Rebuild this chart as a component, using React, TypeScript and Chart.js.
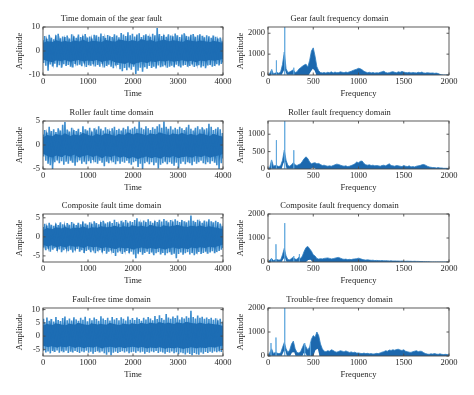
import React, { useEffect, useRef } from "react";
import { Chart, registerables } from "chart.js";
Chart.register(...registerables);

const FONT = "'Liberation Serif', 'Times New Roman', serif";
const TEXT = "#262626";
const OUTER = "#3d8dce";
const CORE = "#1d6db4";
const BAND = "#1c68ae";
const BAND_EDGE = "#2f7fc2";
const SPIKE = "#5ea6dc";

// ---- tick labels ----
const timeXTicks = [0, 1000, 2000, 3000, 4000];
const freqXTicks = [0, 500, 1000, 1500, 2000];
const gearTimeYTicks = [-10, 0, 10];
const rollerTimeYTicks = [-5, 0, 5];
const compTimeYTicks = [-5, 0, 5];
const ffTimeYTicks = [-5, 0, 5, 10];
const gearFreqYTicks = [0, 1000, 2000];
const rollerFreqYTicks = [0, 500, 1000];
const compFreqYTicks = [0, 1000, 2000];
const ffFreqYTicks = [0, 1000, 2000];

// ---- time domain envelopes (outer spikes, sampled over 0..4000) ----
const gearTimeHi = [4.5,6.2,5.1,6.8,5.5,4.9,6.6,7.2,5.3,6.0,5.8,6.4,5.2,7.0,6.1,5.5,6.9,5.8,6.3,7.1,5.6,6.0,5.2,6.8,6.5,5.9,7.3,6.2,5.4,6.7,6.1,5.8,7.0,6.4,5.7,7.5,6.9,6.2,7.8,6.6,7.2,6.0,6.9,7.4,5.8,6.6,7.0,6.3,5.9,7.2,6.5,9.6,7.1,6.2,6.8,5.9,7.0,6.4,6.1,7.3,6.6,5.8,6.9,7.4,6.2,6.0,6.8,7.1,5.9,6.5,7.0,6.3,5.7,6.6,6.1,5.5,6.4,5.9,5.2,5.6,4.0];
const gearTimeLo = [-5.0,-6.1,-8.2,-5.6,-6.4,-5.3,-6.8,-5.9,-7.0,-5.5,-6.2,-5.8,-6.6,-6.9,-5.4,-6.0,-5.7,-6.3,-5.2,-6.7,-5.9,-6.1,-5.5,-6.4,-5.8,-6.6,-5.3,-6.9,-6.2,-5.7,-6.5,-7.2,-6.0,-5.8,-7.6,-8.4,-7.1,-8.0,-6.9,-7.8,-6.6,-9.6,-8.2,-7.0,-8.6,-6.8,-7.4,-6.2,-7.1,-6.5,-7.3,-6.0,-6.8,-6.4,-5.9,-7.0,-6.6,-6.1,-6.8,-5.7,-6.3,-6.9,-6.0,-5.8,-6.5,-6.2,-5.6,-6.7,-6.1,-5.9,-6.9,-6.3,-7.2,-6.0,-5.8,-6.6,-6.2,-5.5,-6.0,-5.4,-4.8];
const gearCoreHi = [3.4,4.1,3.7,4.5,3.9,4.2,3.6,4.4,4.0,4.7,3.8,4.3,4.1,3.7,4.6,4.2,3.9,4.8,4.4,4.1,4.5,4.0,4.9,4.3,4.6,3.9,4.4,4.7,4.1,4.5,4.2,3.8,4.6,4.3,4.0,4.4,4.1,3.7,4.2,3.9,3.2];
const gearCoreLo = [-3.5,-4.2,-4.7,-3.9,-4.3,-3.8,-4.5,-4.1,-3.7,-4.4,-4.0,-4.2,-3.8,-4.6,-4.1,-3.9,-4.7,-5.0,-5.3,-4.8,-5.6,-4.9,-4.5,-5.0,-4.3,-4.6,-4.1,-4.4,-4.0,-4.5,-4.2,-3.9,-4.4,-4.1,-4.7,-4.0,-4.3,-3.8,-4.1,-3.7,-3.3];

const rollerTimeHi = [2.2,3.1,2.6,3.8,2.9,3.3,2.7,3.5,3.0,4.2,4.8,3.2,2.8,3.6,3.1,2.9,3.4,2.7,3.9,3.3,3.0,3.6,2.8,3.5,3.2,3.9,3.4,3.0,3.7,3.3,2.9,3.5,3.8,3.1,3.4,3.0,3.6,3.3,3.9,3.2,3.5,3.8,3.4,4.9,3.6,3.3,3.9,3.5,3.1,3.7,3.4,3.9,4.3,3.6,4.9,3.8,3.4,3.9,3.2,3.6,3.3,3.8,3.5,3.1,3.7,4.2,3.4,3.0,3.6,3.9,3.3,3.7,3.2,3.5,4.4,3.8,3.1,3.4,3.7,3.3,2.5];
const rollerTimeLo = [-2.4,-3.3,-3.9,-4.2,-5.0,-3.6,-3.2,-3.8,-3.4,-4.1,-3.5,-3.9,-3.3,-3.7,-4.3,-3.6,-3.2,-3.9,-3.5,-4.0,-3.4,-3.8,-3.1,-3.6,-3.9,-3.3,-3.7,-4.4,-3.5,-3.8,-3.2,-3.6,-4.0,-3.4,-3.9,-3.5,-3.7,-3.3,-3.8,-4.1,-3.6,-3.4,-4.6,-3.9,-5.0,-3.8,-3.5,-4.0,-3.6,-4.2,-3.7,-4.9,-4.1,-3.8,-3.5,-4.0,-3.6,-3.9,-4.3,-3.7,-4.8,-3.9,-3.5,-4.0,-3.6,-3.8,-4.2,-3.5,-3.9,-3.6,-3.3,-3.8,-4.0,-3.6,-3.9,-3.4,-3.7,-4.2,-5.0,-3.8,-2.8];
const rollerCoreHi = [1.6,2.1,1.8,2.3,2.0,2.4,1.9,2.2,2.0,2.5,2.1,1.9,2.3,2.0,2.4,2.2,1.9,2.3,2.1,2.6,2.2,2.5,2.3,2.0,2.4,2.2,2.6,2.3,2.1,2.4,2.2,2.5,2.1,2.3,2.0,2.4,2.2,1.9,2.3,2.0,1.7];
const rollerCoreLo = [-1.8,-2.3,-2.6,-2.2,-2.5,-2.1,-2.4,-2.0,-2.6,-2.3,-2.1,-2.5,-2.2,-2.7,-2.3,-2.5,-2.2,-2.6,-2.4,-2.8,-2.5,-2.9,-2.6,-2.4,-2.7,-2.5,-2.8,-2.4,-2.6,-2.3,-2.7,-2.5,-2.4,-2.6,-2.3,-2.5,-2.2,-2.6,-2.4,-2.2,-1.9];

const compTimeHi = [2.6,3.4,3.0,3.7,3.2,2.9,3.5,3.1,3.8,3.3,3.0,3.6,3.2,3.9,3.4,3.1,3.7,3.3,4.0,3.5,3.2,3.8,3.4,4.1,3.6,3.3,3.9,4.2,3.5,3.8,4.0,3.6,4.5,3.9,3.4,4.2,3.8,4.4,3.7,4.1,3.9,4.4,4.9,4.0,3.8,4.3,3.9,4.6,4.1,3.7,4.2,3.9,4.5,4.0,4.7,4.2,3.8,4.4,4.0,4.6,4.2,3.9,4.4,4.1,3.8,4.3,5.6,4.2,3.9,4.5,4.1,3.7,4.3,4.0,4.6,4.1,3.8,4.2,3.9,3.5,2.8];
const compTimeLo = [-2.8,-3.5,-3.1,-3.9,-3.4,-3.0,-3.7,-3.3,-4.0,-3.5,-3.2,-3.8,-3.4,-4.1,-3.6,-3.2,-3.9,-3.5,-4.2,-3.7,-3.4,-4.0,-3.6,-4.3,-3.8,-3.5,-4.1,-3.7,-4.4,-3.9,-3.6,-4.2,-5.0,-4.1,-3.8,-4.5,-4.0,-3.7,-4.3,-3.9,-4.6,-5.6,-4.4,-4.0,-4.7,-4.2,-3.9,-4.5,-4.1,-4.8,-4.3,-4.0,-4.6,-4.2,-4.8,-4.3,-4.0,-4.7,-4.4,-5.6,-4.5,-4.1,-4.7,-4.3,-4.0,-4.6,-4.2,-4.8,-4.4,-4.0,-4.5,-4.2,-3.9,-4.4,-4.1,-3.8,-4.3,-4.0,-3.7,-3.4,-2.9];
const compCoreHi = [1.8,2.3,2.0,2.5,2.2,2.6,2.1,2.4,2.3,2.7,2.2,2.5,2.4,2.8,2.5,2.6,2.9,2.5,2.8,2.6,3.0,2.7,2.9,2.6,3.1,2.8,2.6,3.0,2.7,2.9,3.1,2.8,2.6,2.9,2.7,3.0,2.6,2.8,2.5,2.3,1.9];
const compCoreLo = [-2.0,-2.5,-2.2,-2.7,-2.4,-2.8,-2.3,-2.6,-2.5,-2.9,-2.4,-2.7,-2.6,-3.0,-2.7,-2.9,-3.2,-2.8,-3.0,-2.9,-3.3,-3.0,-2.8,-3.1,-2.9,-3.2,-2.9,-3.3,-3.0,-2.8,-3.1,-2.9,-3.2,-2.8,-3.0,-2.7,-2.9,-2.6,-2.8,-2.4,-2.0];

const ffTimeHi = [6.5,5.2,7.0,5.8,6.4,5.5,7.2,6.1,5.7,6.8,7.4,6.0,6.6,5.9,7.1,6.3,5.8,6.9,6.2,7.3,5.6,6.7,6.0,7.0,6.4,5.8,7.5,6.6,6.1,6.9,5.9,7.2,6.3,6.8,6.0,7.1,6.5,5.9,7.4,6.2,6.8,6.1,7.0,6.4,5.8,6.9,6.3,7.2,6.6,6.0,7.6,6.4,7.9,6.8,6.2,8.3,7.0,6.5,7.4,6.8,7.8,6.3,7.1,6.6,7.5,6.9,9.6,7.2,6.6,7.8,6.9,7.3,6.5,7.0,6.4,6.9,6.2,6.7,6.0,6.5,5.5];
const ffTimeLo = [-5.5,-6.2,-5.8,-6.5,-5.6,-6.0,-5.4,-6.3,-5.7,-6.1,-5.5,-6.4,-5.9,-6.2,-5.6,-6.0,-6.4,-5.8,-6.1,-5.5,-6.3,-5.9,-6.6,-6.0,-5.7,-6.2,-5.8,-6.5,-7.0,-6.1,-7.2,-6.3,-5.9,-6.4,-6.0,-5.7,-6.2,-5.8,-6.5,-6.1,-5.9,-6.3,-5.7,-6.2,-5.9,-6.6,-6.0,-6.3,-5.8,-6.1,-5.6,-6.4,-5.9,-6.2,-6.6,-6.0,-6.3,-5.8,-6.5,-6.1,-6.8,-6.2,-6.5,-6.9,-6.3,-6.7,-7.2,-6.4,-6.8,-7.0,-6.2,-6.6,-6.0,-6.4,-5.9,-6.3,-5.8,-6.1,-5.7,-6.0,-5.2];
const ffCoreHi = [4.0,4.6,4.2,4.8,4.4,4.1,4.7,4.3,4.9,4.5,4.2,4.8,4.4,4.6,4.3,4.9,4.5,4.2,4.7,4.4,4.8,4.5,4.9,4.6,5.0,4.7,5.2,4.8,5.0,4.6,5.1,4.8,5.3,4.9,4.7,5.0,4.6,4.8,4.5,4.3,3.8];
const ffCoreLo = [-3.6,-4.1,-3.8,-4.3,-3.9,-4.2,-3.7,-4.4,-4.0,-4.5,-4.1,-4.3,-3.9,-4.6,-4.2,-4.0,-4.4,-4.1,-4.5,-4.2,-4.0,-4.4,-4.1,-4.6,-4.3,-4.5,-4.2,-4.7,-4.4,-4.6,-4.3,-4.8,-4.5,-4.2,-4.6,-4.3,-4.5,-4.1,-4.3,-3.9,-3.5];

// ---- frequency spectra (upper envelope, every 20 Hz over 0..2000) ----
const gearFreq = [0,80,250,60,90,120,80,150,500,1100,300,120,150,200,250,120,150,280,350,420,480,520,380,700,1150,1300,900,400,200,120,100,120,90,130,110,150,100,140,110,120,150,130,110,140,120,150,180,220,250,280,320,300,250,180,140,110,130,100,120,90,110,100,130,150,180,120,100,110,140,160,130,110,150,130,170,140,120,110,130,100,120,110,100,130,110,140,100,90,110,100,90,100,80,90,70,30,10,5,5,5,0];
const rollerFreq = [0,60,260,80,100,90,70,100,250,540,250,100,80,120,180,120,100,130,150,220,300,350,300,200,150,170,180,150,160,130,100,110,90,80,90,80,100,120,140,130,110,90,80,90,70,80,100,120,150,200,180,220,230,160,120,110,120,100,110,90,100,90,80,100,110,90,120,150,100,90,80,100,90,80,70,100,80,70,90,60,70,60,80,90,100,120,130,110,80,60,50,40,40,30,40,30,30,20,20,20,10];
const compFreq = [0,80,150,60,90,100,80,90,300,570,250,100,90,150,200,120,110,200,150,250,450,600,650,550,450,300,250,150,120,140,130,150,160,170,150,130,140,160,180,190,160,130,110,120,100,110,100,120,130,140,160,140,110,90,80,90,80,70,75,60,65,60,55,60,50,55,50,45,50,40,45,40,40,35,40,35,30,35,30,30,25,30,25,25,20,20,15,15,10,10,5,5,5,5,5,5,5,5,5,5,5];
const ffFreq = [0,150,300,100,150,120,100,120,350,560,300,150,250,500,620,300,150,130,180,350,520,380,250,380,700,850,780,1000,850,500,300,200,180,220,200,260,230,180,160,190,220,200,170,210,180,150,170,140,160,120,130,110,100,120,100,110,90,100,80,90,110,100,130,160,180,220,200,250,230,260,240,270,280,250,230,260,200,180,160,150,180,200,220,180,200,190,140,100,80,70,90,80,100,80,70,90,70,60,70,60,50];

// ---- narrow spectral lines [frequency, amplitude] ----
const gearSpikes = [[40, 270], [92, 700], [184, 2400], [284, 350]];
const rollerSpikes = [[37, 260], [92, 830], [184, 1450], [284, 540]];
const compSpikes = [[37, 150], [88, 740], [184, 1620], [284, 250], [346, 330]];
const ffSpikes = [[33, 540], [88, 770], [184, 2100], [405, 540], [468, 560]];

// ---- white gaps under peaks [frequency, amplitude] ----
const gearGaps = [[150,0],[175,220],[192,200],[208,0],[450,0],[475,180],[495,300],[515,220],[535,0]];
const rollerGaps = [[150,0],[172,180],[190,200],[205,0],[470,0],[500,40],[530,0]];
const compGaps = [[150,0],[172,150],[190,160],[205,0],[420,0],[445,80],[470,90],[495,0]];
const ffGaps = [[150,0],[175,200],[192,220],[208,0],[245,0],[265,150],[290,160],[305,0],[380,0],[395,120],[415,110],[430,0],[500,0],[525,250],[550,300],[570,0]];

type Panel = {
  title: string; xLabel: string; kind: "time" | "freq"; side: "L" | "R"; row: number;
  xMax: number; xTicks: number[]; yMin: number; yMax: number; yTicks: number[];
  hi?: number[]; lo?: number[]; coreHi?: number[]; coreLo?: number[];
  band?: number[]; spikes?: number[][]; gaps?: number[][];
};

const panels: Panel[] = [
  { title: "Time domain of the gear fault", xLabel: "Time", kind: "time", side: "L", row: 0, xMax: 4000, xTicks: timeXTicks, yMin: -10, yMax: 10, yTicks: gearTimeYTicks, hi: gearTimeHi, lo: gearTimeLo, coreHi: gearCoreHi, coreLo: gearCoreLo },
  { title: "Gear fault frequency domain", xLabel: "Frequency", kind: "freq", side: "R", row: 0, xMax: 2000, xTicks: freqXTicks, yMin: 0, yMax: 2300, yTicks: gearFreqYTicks, band: gearFreq, spikes: gearSpikes, gaps: gearGaps },
  { title: "Roller fault time domain", xLabel: "Time", kind: "time", side: "L", row: 1, xMax: 4000, xTicks: timeXTicks, yMin: -5, yMax: 5, yTicks: rollerTimeYTicks, hi: rollerTimeHi, lo: rollerTimeLo, coreHi: rollerCoreHi, coreLo: rollerCoreLo },
  { title: "Roller fault frequency domain", xLabel: "Frequency", kind: "freq", side: "R", row: 1, xMax: 2000, xTicks: freqXTicks, yMin: 0, yMax: 1380, yTicks: rollerFreqYTicks, band: rollerFreq, spikes: rollerSpikes, gaps: rollerGaps },
  { title: "Composite fault time domain", xLabel: "Time", kind: "time", side: "L", row: 2, xMax: 4000, xTicks: timeXTicks, yMin: -6.6, yMax: 6, yTicks: compTimeYTicks, hi: compTimeHi, lo: compTimeLo, coreHi: compCoreHi, coreLo: compCoreLo },
  { title: "Composite fault frequency domain", xLabel: "Frequency", kind: "freq", side: "R", row: 2, xMax: 2000, xTicks: freqXTicks, yMin: 0, yMax: 2000, yTicks: compFreqYTicks, band: compFreq, spikes: compSpikes, gaps: compGaps },
  { title: "Fault-free time domain", xLabel: "Time", kind: "time", side: "L", row: 3, xMax: 4000, xTicks: timeXTicks, yMin: -7.5, yMax: 10.6, yTicks: ffTimeYTicks, hi: ffTimeHi, lo: ffTimeLo, coreHi: ffCoreHi, coreLo: ffCoreLo },
  { title: "Trouble-free frequency domain", xLabel: "Frequency", kind: "freq", side: "R", row: 3, xMax: 2000, xTicks: freqXTicks, yMin: 0, yMax: 2000, yTicks: ffFreqYTicks, band: ffFreq, spikes: ffSpikes, gaps: ffGaps },
];

const ROW_TOPS = [0, 94, 187, 281];
const CANVAS_H = 100;

const toPts = (vals: number[], xMax: number) =>
  vals.map((v, i) => ({ x: (i * xMax) / (vals.length - 1), y: v }));
// alternate each sample's maximum and minimum so the trace reads as a dense oscillating signal
const zigPts = (hi: number[], lo: number[], xMax: number) => {
  const n = hi.length;
  const step = xMax / (n - 1);
  const out: { x: number; y: number }[] = [];
  for (let i = 0; i < n; i++) {
    out.push({ x: Math.max(0, i * step - step / 4), y: hi[i] });
    out.push({ x: Math.min(xMax, i * step + step / 4), y: lo[i] });
  }
  return out;
};
const pairPts = (pairs: number[][]) => pairs.map(([x, y]) => ({ x, y }));
const spikePts = (pairs: number[][]) => {
  const out: { x: number; y: number }[] = [];
  for (const [f, a] of pairs) out.push({ x: f - 2, y: 0 }, { x: f, y: a }, { x: f + 2, y: 0 });
  return out;
};

const boxPlugin = {
  id: "matlabBox",
  afterDatasetsDraw(chart: any) {
    const { ctx, chartArea: a, scales } = chart;
    ctx.save();
    ctx.strokeStyle = "#4a4a4a";
    ctx.lineWidth = 0.9;
    ctx.strokeRect(a.left, a.top, a.right - a.left, a.bottom - a.top);
    const L = 2.5;
    ctx.beginPath();
    for (const t of scales.x.ticks) {
      const px = scales.x.getPixelForValue(t.value);
      ctx.moveTo(px, a.bottom); ctx.lineTo(px, a.bottom - L);
      ctx.moveTo(px, a.top); ctx.lineTo(px, a.top + L);
    }
    for (const t of scales.y.ticks) {
      const py = scales.y.getPixelForValue(t.value);
      ctx.moveTo(a.left, py); ctx.lineTo(a.left + L, py);
      ctx.moveTo(a.right, py); ctx.lineTo(a.right - L, py);
    }
    ctx.stroke();
    ctx.restore();
  },
};

function buildConfig(p: Panel): any {
  const font = { family: FONT, size: 8.5, weight: "normal", lineHeight: 1.2 };
  const datasets: any[] =
    p.kind === "time"
      ? [
          { data: zigPts(p.coreHi!, p.coreLo!, p.xMax), borderColor: CORE, borderWidth: 1.4, fill: false, order: 0 },
          { data: toPts(p.coreHi!, p.xMax), borderColor: CORE, backgroundColor: CORE, borderWidth: 0, fill: "+1", order: 1 },
          { data: toPts(p.coreLo!, p.xMax), borderColor: CORE, borderWidth: 0, fill: false, order: 1 },
          { data: zigPts(p.hi!, p.lo!, p.xMax), borderColor: OUTER, borderWidth: 1.6, fill: false, order: 2 },
        ]
      : [
          { data: spikePts(p.spikes!), borderColor: SPIKE, borderWidth: 0.9, fill: false, order: 0 },
          { data: pairPts(p.gaps!), borderColor: "rgba(0,0,0,0)", backgroundColor: "#ffffff", borderWidth: 0, fill: "origin", order: 1 },
          { data: toPts(p.band!, p.xMax), borderColor: BAND_EDGE, backgroundColor: BAND, borderWidth: 0.8, fill: "origin", order: 2 },
        ];
  const isL = p.side === "L";
  return {
    type: "line",
    data: { datasets },
    options: {
      animation: false,
      responsive: false,
      devicePixelRatio: 1,
      layout: { padding: { left: 0, right: isL ? 14 : 25, top: 0, bottom: 0 } },
      elements: { point: { radius: 0 }, line: { tension: 0 } },
      plugins: {
        legend: { display: false },
        tooltip: { enabled: false },
        title: { display: true, text: p.title, color: TEXT, font, padding: { top: 13.9, bottom: 2.9 } },
      },
      scales: {
        x: {
          type: "linear", min: 0, max: p.xMax,
          grid: { display: false, drawTicks: false }, border: { display: false },
          afterBuildTicks: (s: any) => { s.ticks = p.xTicks.map((v) => ({ value: v })); },
          afterFit: (s: any) => { s.height = 25; },
          ticks: { padding: 2, color: TEXT, font, maxRotation: 0, autoSkip: false, callback: (v: any) => String(v) },
          title: { display: true, text: p.xLabel, color: TEXT, font, padding: { top: 0, bottom: 1.6 } },
        },
        y: {
          type: "linear", min: p.yMin, max: p.yMax,
          grid: { display: false, drawTicks: false }, border: { display: false },
          afterBuildTicks: (s: any) => { s.ticks = p.yTicks.map((v) => ({ value: v })); },
          afterFit: (s: any) => { s.width = isL ? 43 : 38; },
          ticks: { padding: 3, color: TEXT, font, autoSkip: false, callback: (v: any) => String(v) },
          title: { display: true, text: "Amplitude", color: TEXT, font, padding: { top: isL ? 14.9 : 5.9, bottom: 0 } },
        },
      },
    },
    plugins: [boxPlugin],
  };
}

function ChartPanel({ p }: { p: Panel }) {
  const ref = useRef<HTMLCanvasElement>(null);
  const w = p.side === "L" ? 237 : 244;
  const left = p.side === "L" ? 0 : 230;
  useEffect(() => {
    const chart = new Chart(ref.current as HTMLCanvasElement, buildConfig(p));
    return () => chart.destroy();
  }, []);
  return (
    <canvas
      ref={ref}
      width={w}
      height={CANVAS_H}
      style={{ position: "absolute", left, top: ROW_TOPS[p.row], width: w, height: CANVAS_H }}
    />
  );
}

export default function App() {
  return (
    <div style={{ position: "absolute", left: 0, top: 0, width: 474, height: 395, background: "#ffffff", overflow: "hidden" }}>
      {panels.map((p, i) => (
        <ChartPanel key={i} p={p} />
      ))}
    </div>
  );
}
